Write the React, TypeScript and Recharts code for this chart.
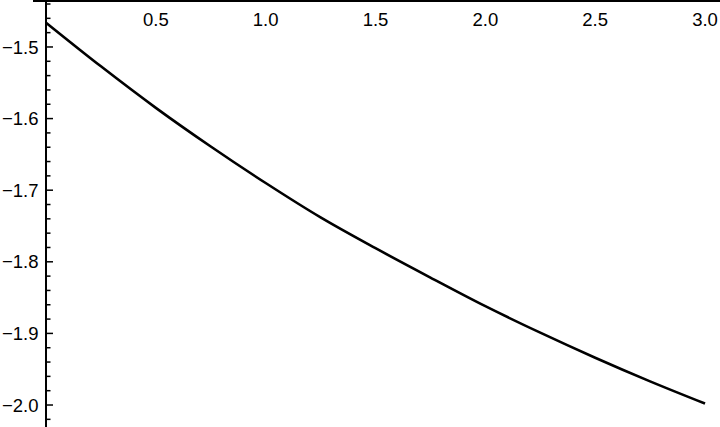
import React from "react";
import {
  LineChart,
  Line,
  XAxis,
  YAxis,
  ReferenceLine,
} from "recharts";

// curve values
const xValues = [0, 0.25, 0.5, 0.75, 1.0, 1.25, 1.5, 1.75, 2.0, 2.25, 2.5, 2.75, 3.0];
const yValues = [
  -1.466, -1.527, -1.585, -1.639, -1.69, -1.738, -1.781, -1.822, -1.862,
  -1.899, -1.934, -1.967, -1.998,
];

const xTicks = [0.5, 1.0, 1.5, 2.0, 2.5, 3.0];
// every 0.02, majors every 0.1
const yTicks = [
  -2.02, -2.0, -1.98, -1.96, -1.94, -1.92, -1.9, -1.88, -1.86, -1.84, -1.82,
  -1.8, -1.78, -1.76, -1.74, -1.72, -1.7, -1.68, -1.66, -1.64, -1.62, -1.6,
  -1.58, -1.56, -1.54, -1.52, -1.5, -1.48, -1.46, -1.44,
];

const data = xValues.map((x, i) => ({ x, y: yValues[i] }));

const FONT = "'Liberation Sans', Arial, sans-serif";
const AXIS_X = 46; // where x = 0 sits

const fmt = (v: number) => {
  const s = Math.abs(v).toFixed(1);
  return v < 0 ? "\u2212" + s : s;
};

const YTick = (props: any) => {
  const { y, payload } = props;
  const v = payload.value;
  const major = Math.abs(Math.round(v * 10) - v * 10) < 1e-6;
  return (
    <g>
      <line
        x1={AXIS_X}
        x2={AXIS_X + (major ? 7 : 4.5)}
        y1={y}
        y2={y}
        stroke="#000"
        strokeWidth={1.5}
      />
      {major && (
        <text
          x={AXIS_X - 7.5}
          y={y}
          dy={6.6}
          textAnchor="end"
          fontFamily={FONT}
          fontSize={18.5}
          fill="#000"
        >
          {fmt(v)}
        </text>
      )}
    </g>
  );
};

const XTick = (props: any) => {
  const { x, y, payload } = props;
  return (
    <text
      x={x}
      y={y + 24.5}
      textAnchor="middle"
      fontFamily={FONT}
      fontSize={18.5}
      fill="#000"
    >
      {fmt(payload.value)}
    </text>
  );
};

const App = () => {
  return (
    <div style={{ position: "absolute", left: 0, top: 0 }}>
      <LineChart
        width={720}
        height={427}
        data={data}
        margin={{ top: 0, right: 0, bottom: 0, left: 0 }}
      >
        <XAxis
          dataKey="x"
          type="number"
          orientation="top"
          domain={[-0.0592, 3.0683]}
          ticks={xTicks}
          height={1}
          tickSize={0}
          tickMargin={0}
          tickLine={false}
          axisLine={{ stroke: "#000", strokeWidth: 2 }}
          tick={<XTick />}
          allowDataOverflow
        />
        <YAxis
          type="number"
          domain={[-2.0307, -1.4358]}
          ticks={yTicks}
          width={33}
          tickSize={0}
          tickMargin={0}
          tickLine={false}
          axisLine={false}
          tick={<YTick />}
          interval={0}
          allowDataOverflow
        />
        <ReferenceLine x={0} stroke="#000" strokeWidth={2} />
        <Line
          type="monotone"
          dataKey="y"
          stroke="#000"
          strokeWidth={2.6}
          dot={false}
          isAnimationActive={false}
        />
      </LineChart>
    </div>
  );
};

export default App;
